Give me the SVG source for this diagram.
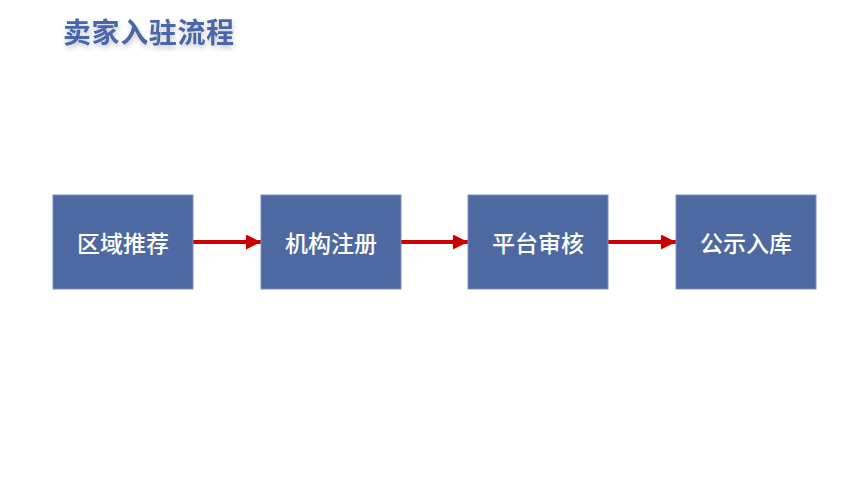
<svg xmlns="http://www.w3.org/2000/svg" width="860" height="484" viewBox="0 0 860 484">
<defs>
<filter id="sh" x="-10%" y="-30%" width="120%" height="170%">
<feDropShadow dx="1" dy="3" stdDeviation="2.5" flood-color="#000" flood-opacity="0.22"/>
</filter>
<marker id="ah" markerUnits="userSpaceOnUse" markerWidth="15" markerHeight="15" viewBox="0 0 15 15" refX="15" refY="7.5" orient="auto">
<path d="M0,0 L15,7.5 L0,15 Z" fill="#CC0000"/>
</marker>
</defs>
<style>
.box{fill:#4E69A2;stroke:#7A91C0;stroke-width:1}
.lbl{font-family:"Noto Sans CJK SC","Noto Sans",sans-serif;font-size:23px;font-weight:500;fill:#FFFFFF;text-anchor:middle;dominant-baseline:central}
.ttl{font-family:"Noto Sans CJK SC","Noto Sans",sans-serif;font-size:28px;font-weight:bold;fill:#4A66A8;letter-spacing:0.6px}
.con{stroke:#CC0000;stroke-width:4;fill:none}
</style>
<rect width="860" height="484" fill="#FFFFFF"/>
<text class="ttl" x="63" y="43" filter="url(#sh)">卖家入驻流程</text>
<g id="connectors">
<line class="con" x1="193" y1="242" x2="261" y2="242" marker-end="url(#ah)"/>
<line class="con" x1="401" y1="242" x2="468" y2="242" marker-end="url(#ah)"/>
<line class="con" x1="608" y1="242" x2="676" y2="242" marker-end="url(#ah)"/>
</g>
<g id="n1"><rect class="box" x="53" y="195" width="140" height="94"/><text class="lbl" x="123" y="242">区域推荐</text></g>
<g id="n2"><rect class="box" x="261" y="195" width="140" height="94"/><text class="lbl" x="331" y="242">机构注册</text></g>
<g id="n3"><rect class="box" x="468" y="195" width="140" height="94"/><text class="lbl" x="538" y="242">平台审核</text></g>
<g id="n4"><rect class="box" x="676" y="195" width="140" height="94"/><text class="lbl" x="746" y="242">公示入库</text></g>
</svg>
